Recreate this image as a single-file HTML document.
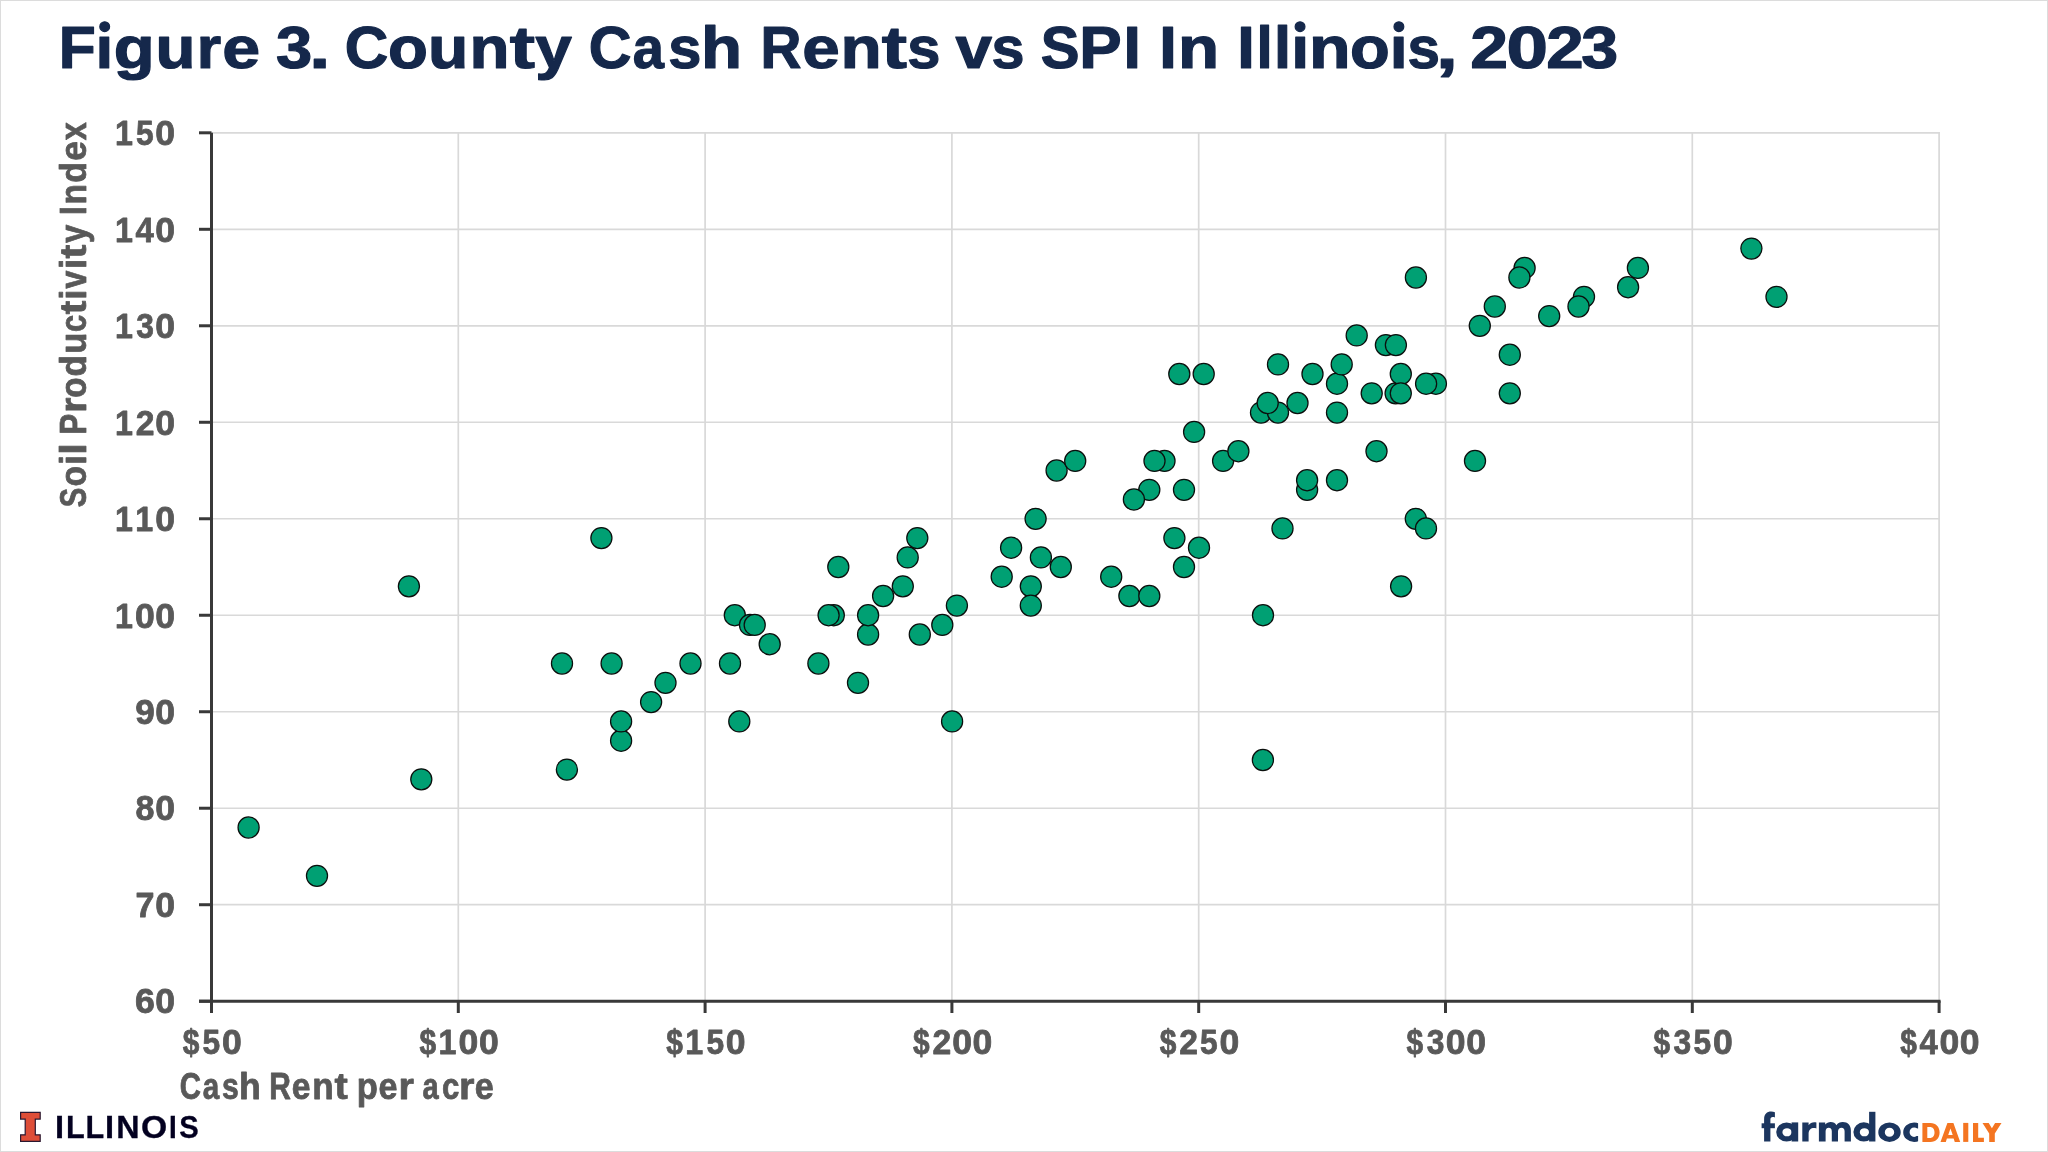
<!DOCTYPE html>
<html><head><meta charset="utf-8">
<style>
html,body{margin:0;padding:0;background:#fff;}
body{width:2048px;height:1152px;overflow:hidden;position:relative;}
svg{position:absolute;left:0;top:0;display:block;will-change:transform;}
text{font-family:"Liberation Sans",sans-serif;font-weight:bold;}
</style></head>
<body>
<svg width="2048" height="1152" viewBox="0 0 2048 1152">
<rect x="0.5" y="0.5" width="2047" height="1151" fill="#fff" stroke="#dcdcdc" stroke-width="1"/>
<g fill="#15284b" stroke="#15284b" stroke-width="1.2" stroke-linejoin="round"><text x="58.65" y="68.20" font-size="59.3" textLength="36.96" lengthAdjust="spacingAndGlyphs">F</text><text x="95.51" y="68.20" font-size="59.3" textLength="17.62" lengthAdjust="spacingAndGlyphs">ı</text><text x="113.65" y="68.20" font-size="59.3" textLength="40.93" lengthAdjust="spacingAndGlyphs">g</text><text x="155.44" y="68.20" font-size="59.3" textLength="39.97" lengthAdjust="spacingAndGlyphs">u</text><text x="196.67" y="68.20" font-size="59.3" textLength="24.38" lengthAdjust="spacingAndGlyphs">r</text><text x="222.24" y="68.20" font-size="59.3" textLength="37.89" lengthAdjust="spacingAndGlyphs">e</text><text x="275.90" y="68.20" font-size="59.3" textLength="36.25" lengthAdjust="spacingAndGlyphs">3</text><text x="309.25" y="68.20" font-size="59.3" textLength="21.07" lengthAdjust="spacingAndGlyphs">.</text><text x="344.73" y="68.20" font-size="59.3" textLength="43.52" lengthAdjust="spacingAndGlyphs">C</text><text x="387.95" y="68.20" font-size="59.3" textLength="39.90" lengthAdjust="spacingAndGlyphs">o</text><text x="428.10" y="68.20" font-size="59.3" textLength="40.35" lengthAdjust="spacingAndGlyphs">u</text><text x="469.59" y="68.20" font-size="59.3" textLength="39.97" lengthAdjust="spacingAndGlyphs">n</text><text x="509.87" y="68.20" font-size="59.3" textLength="25.25" lengthAdjust="spacingAndGlyphs">t</text><text x="535.28" y="68.20" font-size="59.3" textLength="36.67" lengthAdjust="spacingAndGlyphs">y</text><text x="588.67" y="68.20" font-size="59.3" textLength="42.75" lengthAdjust="spacingAndGlyphs">C</text><text x="632.86" y="68.20" font-size="59.3" textLength="31.19" lengthAdjust="spacingAndGlyphs">a</text><text x="668.31" y="68.20" font-size="59.3" textLength="33.14" lengthAdjust="spacingAndGlyphs">s</text><text x="700.91" y="68.20" font-size="59.3" textLength="41.06" lengthAdjust="spacingAndGlyphs">h</text><text x="760.61" y="68.20" font-size="59.3" textLength="40.96" lengthAdjust="spacingAndGlyphs">R</text><text x="802.36" y="68.20" font-size="59.3" textLength="37.54" lengthAdjust="spacingAndGlyphs">e</text><text x="840.45" y="68.20" font-size="59.3" textLength="41.24" lengthAdjust="spacingAndGlyphs">n</text><text x="881.87" y="68.20" font-size="59.3" textLength="25.25" lengthAdjust="spacingAndGlyphs">t</text><text x="907.31" y="68.20" font-size="59.3" textLength="33.14" lengthAdjust="spacingAndGlyphs">s</text><text x="955.64" y="68.20" font-size="59.3" textLength="36.55" lengthAdjust="spacingAndGlyphs">v</text><text x="991.41" y="68.20" font-size="59.3" textLength="33.02" lengthAdjust="spacingAndGlyphs">s</text><text x="1040.63" y="68.20" font-size="59.3" textLength="38.74" lengthAdjust="spacingAndGlyphs">S</text><text x="1079.24" y="68.20" font-size="59.3" textLength="42.43" lengthAdjust="spacingAndGlyphs">P</text><text x="1123.42" y="68.20" font-size="59.3" textLength="17.36" lengthAdjust="spacingAndGlyphs">I</text><text x="1159.27" y="68.20" font-size="59.3" textLength="17.55" lengthAdjust="spacingAndGlyphs">I</text><text x="1178.06" y="68.20" font-size="59.3" textLength="41.11" lengthAdjust="spacingAndGlyphs">n</text><text x="1237.17" y="68.20" font-size="59.3" textLength="17.55" lengthAdjust="spacingAndGlyphs">I</text><text x="1256.43" y="68.20" font-size="59.3" textLength="16.20" lengthAdjust="spacingAndGlyphs">l</text><text x="1273.93" y="68.20" font-size="59.3" textLength="17.01" lengthAdjust="spacingAndGlyphs">l</text><text x="1291.16" y="68.20" font-size="59.3" textLength="17.82" lengthAdjust="spacingAndGlyphs">ı</text><text x="1308.91" y="68.20" font-size="59.3" textLength="41.62" lengthAdjust="spacingAndGlyphs">n</text><text x="1349.96" y="68.20" font-size="59.3" textLength="39.79" lengthAdjust="spacingAndGlyphs">o</text><text x="1389.81" y="68.20" font-size="59.3" textLength="17.82" lengthAdjust="spacingAndGlyphs">ı</text><text x="1407.45" y="68.20" font-size="59.3" textLength="32.44" lengthAdjust="spacingAndGlyphs">s</text><text x="1436.14" y="68.20" font-size="59.3" textLength="21.94" lengthAdjust="spacingAndGlyphs">,</text><text x="1470.15" y="68.20" font-size="59.3" textLength="37.77" lengthAdjust="spacingAndGlyphs">2</text><text x="1506.55" y="68.20" font-size="59.3" textLength="41.51" lengthAdjust="spacingAndGlyphs">0</text><text x="1546.27" y="68.20" font-size="59.3" textLength="37.43" lengthAdjust="spacingAndGlyphs">2</text><text x="1581.38" y="68.20" font-size="59.3" textLength="36.92" lengthAdjust="spacingAndGlyphs">3</text><circle cx="104.7" cy="26.65" r="4.9"/><circle cx="1300.05" cy="26.65" r="4.9"/><circle cx="1398.9" cy="26.7" r="4.9"/></g>
<g stroke="#d9d9d9" stroke-width="1.7"><line x1="211.50" y1="904.72" x2="1939.85" y2="904.72"/><line x1="211.50" y1="808.23" x2="1939.85" y2="808.23"/><line x1="211.50" y1="711.74" x2="1939.85" y2="711.74"/><line x1="211.50" y1="615.25" x2="1939.85" y2="615.25"/><line x1="211.50" y1="518.76" x2="1939.85" y2="518.76"/><line x1="211.50" y1="422.27" x2="1939.85" y2="422.27"/><line x1="211.50" y1="325.78" x2="1939.85" y2="325.78"/><line x1="211.50" y1="229.29" x2="1939.85" y2="229.29"/><line x1="211.50" y1="132.80" x2="1939.85" y2="132.80"/><line x1="458.30" y1="132.05" x2="458.30" y2="1001.21"/><line x1="705.10" y1="132.05" x2="705.10" y2="1001.21"/><line x1="951.90" y1="132.05" x2="951.90" y2="1001.21"/><line x1="1198.70" y1="132.05" x2="1198.70" y2="1001.21"/><line x1="1445.50" y1="132.05" x2="1445.50" y2="1001.21"/><line x1="1692.30" y1="132.05" x2="1692.30" y2="1001.21"/><line x1="1939.10" y1="132.05" x2="1939.10" y2="1001.21"/></g>
<g stroke="#393939" stroke-width="3" stroke-linecap="butt">
<line x1="211.50" y1="132.80" x2="211.50" y2="1013"/>
<line x1="199" y1="1001.21" x2="1940.60" y2="1001.21"/>
<line x1="199" y1="1001.21" x2="211.50" y2="1001.21"/><line x1="199" y1="904.72" x2="211.50" y2="904.72"/><line x1="199" y1="808.23" x2="211.50" y2="808.23"/><line x1="199" y1="711.74" x2="211.50" y2="711.74"/><line x1="199" y1="615.25" x2="211.50" y2="615.25"/><line x1="199" y1="518.76" x2="211.50" y2="518.76"/><line x1="199" y1="422.27" x2="211.50" y2="422.27"/><line x1="199" y1="325.78" x2="211.50" y2="325.78"/><line x1="199" y1="229.29" x2="211.50" y2="229.29"/><line x1="199" y1="132.80" x2="211.50" y2="132.80"/><line x1="211.50" y1="1001.21" x2="211.50" y2="1013"/><line x1="458.30" y1="1001.21" x2="458.30" y2="1013"/><line x1="705.10" y1="1001.21" x2="705.10" y2="1013"/><line x1="951.90" y1="1001.21" x2="951.90" y2="1013"/><line x1="1198.70" y1="1001.21" x2="1198.70" y2="1013"/><line x1="1445.50" y1="1001.21" x2="1445.50" y2="1013"/><line x1="1692.30" y1="1001.21" x2="1692.30" y2="1013"/><line x1="1939.10" y1="1001.21" x2="1939.10" y2="1013"/></g>
<g fill="#595959" stroke="#595959" stroke-width="0.8" stroke-linejoin="round"><text x="134.94" y="1013.46" font-size="34.7" textLength="19.90" lengthAdjust="spacingAndGlyphs">6</text><text x="155.29" y="1013.46" font-size="34.7" textLength="19.76" lengthAdjust="spacingAndGlyphs">0</text><text x="135.43" y="916.97" font-size="34.7" textLength="18.96" lengthAdjust="spacingAndGlyphs">7</text><text x="155.29" y="916.97" font-size="34.7" textLength="19.76" lengthAdjust="spacingAndGlyphs">0</text><text x="135.42" y="820.48" font-size="34.7" textLength="18.93" lengthAdjust="spacingAndGlyphs">8</text><text x="155.29" y="820.48" font-size="34.7" textLength="19.76" lengthAdjust="spacingAndGlyphs">0</text><text x="135.18" y="723.99" font-size="34.7" textLength="19.52" lengthAdjust="spacingAndGlyphs">9</text><text x="155.29" y="723.99" font-size="34.7" textLength="19.76" lengthAdjust="spacingAndGlyphs">0</text><text x="115.12" y="627.50" font-size="34.7" textLength="17.93" lengthAdjust="spacingAndGlyphs">1</text><text x="135.04" y="627.50" font-size="34.7" textLength="19.76" lengthAdjust="spacingAndGlyphs">0</text><text x="155.29" y="627.50" font-size="34.7" textLength="19.76" lengthAdjust="spacingAndGlyphs">0</text><text x="115.12" y="531.01" font-size="34.7" textLength="17.93" lengthAdjust="spacingAndGlyphs">1</text><text x="135.37" y="531.01" font-size="34.7" textLength="17.93" lengthAdjust="spacingAndGlyphs">1</text><text x="155.29" y="531.01" font-size="34.7" textLength="19.76" lengthAdjust="spacingAndGlyphs">0</text><text x="115.12" y="434.52" font-size="34.7" textLength="17.93" lengthAdjust="spacingAndGlyphs">1</text><text x="135.63" y="434.52" font-size="34.7" textLength="18.71" lengthAdjust="spacingAndGlyphs">2</text><text x="155.29" y="434.52" font-size="34.7" textLength="19.76" lengthAdjust="spacingAndGlyphs">0</text><text x="115.12" y="338.03" font-size="34.7" textLength="17.93" lengthAdjust="spacingAndGlyphs">1</text><text x="136.27" y="338.03" font-size="34.7" textLength="17.68" lengthAdjust="spacingAndGlyphs">3</text><text x="155.29" y="338.03" font-size="34.7" textLength="19.76" lengthAdjust="spacingAndGlyphs">0</text><text x="115.12" y="241.54" font-size="34.7" textLength="17.93" lengthAdjust="spacingAndGlyphs">1</text><text x="135.60" y="241.54" font-size="34.7" textLength="18.27" lengthAdjust="spacingAndGlyphs">4</text><text x="155.29" y="241.54" font-size="34.7" textLength="19.76" lengthAdjust="spacingAndGlyphs">0</text><text x="115.12" y="145.05" font-size="34.7" textLength="17.93" lengthAdjust="spacingAndGlyphs">1</text><text x="136.02" y="145.05" font-size="34.7" textLength="17.66" lengthAdjust="spacingAndGlyphs">5</text><text x="155.29" y="145.05" font-size="34.7" textLength="19.76" lengthAdjust="spacingAndGlyphs">0</text><text x="182.81" y="1054.06" font-size="34.7" textLength="16.62" lengthAdjust="spacingAndGlyphs">$</text><text x="202.62" y="1054.06" font-size="34.7" textLength="17.66" lengthAdjust="spacingAndGlyphs">5</text><text x="222.04" y="1054.06" font-size="34.7" textLength="19.76" lengthAdjust="spacingAndGlyphs">0</text><text x="419.41" y="1054.06" font-size="34.7" textLength="16.62" lengthAdjust="spacingAndGlyphs">$</text><text x="438.57" y="1054.06" font-size="34.7" textLength="17.93" lengthAdjust="spacingAndGlyphs">1</text><text x="458.64" y="1054.06" font-size="34.7" textLength="19.76" lengthAdjust="spacingAndGlyphs">0</text><text x="479.04" y="1054.06" font-size="34.7" textLength="19.76" lengthAdjust="spacingAndGlyphs">0</text><text x="666.21" y="1054.06" font-size="34.7" textLength="16.62" lengthAdjust="spacingAndGlyphs">$</text><text x="685.37" y="1054.06" font-size="34.7" textLength="17.93" lengthAdjust="spacingAndGlyphs">1</text><text x="706.42" y="1054.06" font-size="34.7" textLength="17.66" lengthAdjust="spacingAndGlyphs">5</text><text x="725.84" y="1054.06" font-size="34.7" textLength="19.76" lengthAdjust="spacingAndGlyphs">0</text><text x="913.01" y="1054.06" font-size="34.7" textLength="16.62" lengthAdjust="spacingAndGlyphs">$</text><text x="932.43" y="1054.06" font-size="34.7" textLength="18.71" lengthAdjust="spacingAndGlyphs">2</text><text x="952.24" y="1054.06" font-size="34.7" textLength="19.76" lengthAdjust="spacingAndGlyphs">0</text><text x="972.64" y="1054.06" font-size="34.7" textLength="19.76" lengthAdjust="spacingAndGlyphs">0</text><text x="1159.81" y="1054.06" font-size="34.7" textLength="16.62" lengthAdjust="spacingAndGlyphs">$</text><text x="1179.23" y="1054.06" font-size="34.7" textLength="18.71" lengthAdjust="spacingAndGlyphs">2</text><text x="1200.02" y="1054.06" font-size="34.7" textLength="17.66" lengthAdjust="spacingAndGlyphs">5</text><text x="1219.44" y="1054.06" font-size="34.7" textLength="19.76" lengthAdjust="spacingAndGlyphs">0</text><text x="1406.61" y="1054.06" font-size="34.7" textLength="16.62" lengthAdjust="spacingAndGlyphs">$</text><text x="1426.67" y="1054.06" font-size="34.7" textLength="17.68" lengthAdjust="spacingAndGlyphs">3</text><text x="1445.84" y="1054.06" font-size="34.7" textLength="19.76" lengthAdjust="spacingAndGlyphs">0</text><text x="1466.24" y="1054.06" font-size="34.7" textLength="19.76" lengthAdjust="spacingAndGlyphs">0</text><text x="1653.41" y="1054.06" font-size="34.7" textLength="16.62" lengthAdjust="spacingAndGlyphs">$</text><text x="1673.47" y="1054.06" font-size="34.7" textLength="17.68" lengthAdjust="spacingAndGlyphs">3</text><text x="1693.62" y="1054.06" font-size="34.7" textLength="17.66" lengthAdjust="spacingAndGlyphs">5</text><text x="1713.04" y="1054.06" font-size="34.7" textLength="19.76" lengthAdjust="spacingAndGlyphs">0</text><text x="1900.21" y="1054.06" font-size="34.7" textLength="16.62" lengthAdjust="spacingAndGlyphs">$</text><text x="1919.60" y="1054.06" font-size="34.7" textLength="18.27" lengthAdjust="spacingAndGlyphs">4</text><text x="1939.44" y="1054.06" font-size="34.7" textLength="19.76" lengthAdjust="spacingAndGlyphs">0</text><text x="1959.84" y="1054.06" font-size="34.7" textLength="19.76" lengthAdjust="spacingAndGlyphs">0</text><text x="179.85" y="1099.45" font-size="36.5" textLength="21.21" lengthAdjust="spacingAndGlyphs">C</text><text x="202.68" y="1099.45" font-size="36.5" textLength="16.48" lengthAdjust="spacingAndGlyphs">a</text><text x="221.89" y="1099.45" font-size="36.5" textLength="16.80" lengthAdjust="spacingAndGlyphs">s</text><text x="238.96" y="1099.45" font-size="36.5" textLength="21.81" lengthAdjust="spacingAndGlyphs">h</text><text x="269.35" y="1099.45" font-size="36.5" textLength="21.62" lengthAdjust="spacingAndGlyphs">R</text><text x="291.83" y="1099.45" font-size="36.5" textLength="18.77" lengthAdjust="spacingAndGlyphs">e</text><text x="312.13" y="1099.45" font-size="36.5" textLength="21.50" lengthAdjust="spacingAndGlyphs">n</text><text x="334.56" y="1099.45" font-size="36.5" textLength="13.27" lengthAdjust="spacingAndGlyphs">t</text><text x="356.77" y="1099.45" font-size="36.5" textLength="21.09" lengthAdjust="spacingAndGlyphs">p</text><text x="378.52" y="1099.45" font-size="36.5" textLength="19.00" lengthAdjust="spacingAndGlyphs">e</text><text x="398.44" y="1099.45" font-size="36.5" textLength="15.41" lengthAdjust="spacingAndGlyphs">r</text><text x="422.40" y="1099.45" font-size="36.5" textLength="16.17" lengthAdjust="spacingAndGlyphs">a</text><text x="441.93" y="1099.45" font-size="36.5" textLength="17.33" lengthAdjust="spacingAndGlyphs">c</text><text x="459.14" y="1099.45" font-size="36.5" textLength="15.41" lengthAdjust="spacingAndGlyphs">r</text><text x="474.82" y="1099.45" font-size="36.5" textLength="19.00" lengthAdjust="spacingAndGlyphs">e</text><g transform="translate(85.55,0) rotate(-90)"><text x="-507.19" y="0.00" font-size="36.5" textLength="19.48" lengthAdjust="spacingAndGlyphs">S</text><text x="-486.56" y="0.00" font-size="36.5" textLength="20.53" lengthAdjust="spacingAndGlyphs">o</text><text x="-464.64" y="0.00" font-size="36.5" textLength="9.52" lengthAdjust="spacingAndGlyphs">i</text><text x="-454.70" y="0.00" font-size="36.5" textLength="11.34" lengthAdjust="spacingAndGlyphs">l</text><text x="-434.62" y="0.00" font-size="36.5" textLength="20.63" lengthAdjust="spacingAndGlyphs">P</text><text x="-412.72" y="0.00" font-size="36.5" textLength="15.16" lengthAdjust="spacingAndGlyphs">r</text><text x="-397.74" y="0.00" font-size="36.5" textLength="20.18" lengthAdjust="spacingAndGlyphs">o</text><text x="-376.38" y="0.00" font-size="36.5" textLength="21.33" lengthAdjust="spacingAndGlyphs">d</text><text x="-353.79" y="0.00" font-size="36.5" textLength="21.12" lengthAdjust="spacingAndGlyphs">u</text><text x="-332.06" y="0.00" font-size="36.5" textLength="17.22" lengthAdjust="spacingAndGlyphs">c</text><text x="-314.35" y="0.00" font-size="36.5" textLength="13.60" lengthAdjust="spacingAndGlyphs">t</text><text x="-299.69" y="0.00" font-size="36.5" textLength="10.12" lengthAdjust="spacingAndGlyphs">i</text><text x="-288.58" y="0.00" font-size="36.5" textLength="17.87" lengthAdjust="spacingAndGlyphs">v</text><text x="-269.05" y="0.00" font-size="36.5" textLength="10.33" lengthAdjust="spacingAndGlyphs">i</text><text x="-258.45" y="0.00" font-size="36.5" textLength="13.70" lengthAdjust="spacingAndGlyphs">t</text><text x="-243.01" y="0.00" font-size="36.5" textLength="18.23" lengthAdjust="spacingAndGlyphs">y</text><text x="-214.99" y="0.00" font-size="36.5" textLength="8.87" lengthAdjust="spacingAndGlyphs">I</text><text x="-204.55" y="0.00" font-size="36.5" textLength="20.37" lengthAdjust="spacingAndGlyphs">n</text><text x="-182.84" y="0.00" font-size="36.5" textLength="20.73" lengthAdjust="spacingAndGlyphs">d</text><text x="-160.83" y="0.00" font-size="36.5" textLength="19.69" lengthAdjust="spacingAndGlyphs">e</text><text x="-140.17" y="0.00" font-size="36.5" textLength="17.96" lengthAdjust="spacingAndGlyphs">x</text></g></g>
<g fill="#00a073" stroke="#0b0f0d" stroke-width="1.25"><circle cx="248.6" cy="827.5" r="10.55"/><circle cx="317.0" cy="875.8" r="10.55"/><circle cx="408.9" cy="586.3" r="10.55"/><circle cx="421.3" cy="779.3" r="10.55"/><circle cx="562.0" cy="663.5" r="10.55"/><circle cx="566.9" cy="769.6" r="10.55"/><circle cx="601.4" cy="538.1" r="10.55"/><circle cx="611.6" cy="663.5" r="10.55"/><circle cx="621.1" cy="740.7" r="10.55"/><circle cx="621.1" cy="721.4" r="10.55"/><circle cx="651.1" cy="702.1" r="10.55"/><circle cx="665.5" cy="682.8" r="10.55"/><circle cx="690.5" cy="663.5" r="10.55"/><circle cx="730.0" cy="663.5" r="10.55"/><circle cx="734.8" cy="615.2" r="10.55"/><circle cx="739.3" cy="721.4" r="10.55"/><circle cx="750.0" cy="624.9" r="10.55"/><circle cx="754.7" cy="624.9" r="10.55"/><circle cx="769.7" cy="644.2" r="10.55"/><circle cx="818.4" cy="663.5" r="10.55"/><circle cx="833.8" cy="615.2" r="10.55"/><circle cx="828.6" cy="615.2" r="10.55"/><circle cx="838.3" cy="567.0" r="10.55"/><circle cx="858.0" cy="682.8" r="10.55"/><circle cx="868.1" cy="634.5" r="10.55"/><circle cx="868.1" cy="615.2" r="10.55"/><circle cx="883.1" cy="596.0" r="10.55"/><circle cx="902.8" cy="586.3" r="10.55"/><circle cx="907.7" cy="557.4" r="10.55"/><circle cx="917.3" cy="538.1" r="10.55"/><circle cx="919.8" cy="634.5" r="10.55"/><circle cx="942.3" cy="624.9" r="10.55"/><circle cx="952.1" cy="721.4" r="10.55"/><circle cx="956.9" cy="605.6" r="10.55"/><circle cx="1001.7" cy="576.7" r="10.55"/><circle cx="1011.1" cy="547.7" r="10.55"/><circle cx="1030.8" cy="586.3" r="10.55"/><circle cx="1030.8" cy="605.6" r="10.55"/><circle cx="1035.6" cy="518.8" r="10.55"/><circle cx="1040.9" cy="557.4" r="10.55"/><circle cx="1056.6" cy="470.5" r="10.55"/><circle cx="1060.8" cy="567.0" r="10.55"/><circle cx="1075.2" cy="460.9" r="10.55"/><circle cx="1111.2" cy="576.7" r="10.55"/><circle cx="1129.4" cy="596.0" r="10.55"/><circle cx="1149.3" cy="489.8" r="10.55"/><circle cx="1133.9" cy="499.5" r="10.55"/><circle cx="1149.3" cy="596.0" r="10.55"/><circle cx="1164.5" cy="460.9" r="10.55"/><circle cx="1154.5" cy="460.9" r="10.55"/><circle cx="1174.4" cy="538.1" r="10.55"/><circle cx="1179.3" cy="374.0" r="10.55"/><circle cx="1184.0" cy="489.8" r="10.55"/><circle cx="1184.0" cy="567.0" r="10.55"/><circle cx="1194.1" cy="431.9" r="10.55"/><circle cx="1199.0" cy="547.7" r="10.55"/><circle cx="1203.7" cy="374.0" r="10.55"/><circle cx="1223.1" cy="460.9" r="10.55"/><circle cx="1238.4" cy="451.2" r="10.55"/><circle cx="1261.0" cy="412.6" r="10.55"/><circle cx="1263.0" cy="615.2" r="10.55"/><circle cx="1262.9" cy="760.0" r="10.55"/><circle cx="1278.0" cy="412.6" r="10.55"/><circle cx="1267.7" cy="403.0" r="10.55"/><circle cx="1278.0" cy="364.4" r="10.55"/><circle cx="1282.5" cy="528.4" r="10.55"/><circle cx="1297.5" cy="403.0" r="10.55"/><circle cx="1307.1" cy="489.8" r="10.55"/><circle cx="1307.1" cy="480.2" r="10.55"/><circle cx="1312.5" cy="374.0" r="10.55"/><circle cx="1337.0" cy="383.7" r="10.55"/><circle cx="1337.0" cy="412.6" r="10.55"/><circle cx="1337.0" cy="480.2" r="10.55"/><circle cx="1341.7" cy="364.4" r="10.55"/><circle cx="1356.7" cy="335.4" r="10.55"/><circle cx="1371.7" cy="393.3" r="10.55"/><circle cx="1376.5" cy="451.2" r="10.55"/><circle cx="1385.9" cy="345.1" r="10.55"/><circle cx="1395.9" cy="345.1" r="10.55"/><circle cx="1395.6" cy="393.3" r="10.55"/><circle cx="1400.8" cy="374.0" r="10.55"/><circle cx="1400.8" cy="393.3" r="10.55"/><circle cx="1401.1" cy="586.3" r="10.55"/><circle cx="1415.9" cy="277.5" r="10.55"/><circle cx="1415.8" cy="518.8" r="10.55"/><circle cx="1435.9" cy="383.7" r="10.55"/><circle cx="1426.1" cy="383.7" r="10.55"/><circle cx="1426.0" cy="528.4" r="10.55"/><circle cx="1475.0" cy="460.9" r="10.55"/><circle cx="1479.8" cy="325.8" r="10.55"/><circle cx="1494.8" cy="306.5" r="10.55"/><circle cx="1509.8" cy="354.7" r="10.55"/><circle cx="1509.8" cy="393.3" r="10.55"/><circle cx="1524.6" cy="267.9" r="10.55"/><circle cx="1519.4" cy="277.5" r="10.55"/><circle cx="1549.2" cy="316.1" r="10.55"/><circle cx="1584.0" cy="296.8" r="10.55"/><circle cx="1578.5" cy="306.5" r="10.55"/><circle cx="1628.1" cy="287.2" r="10.55"/><circle cx="1637.9" cy="267.9" r="10.55"/><circle cx="1751.4" cy="248.6" r="10.55"/><circle cx="1776.5" cy="296.8" r="10.55"/></g>
<path d="M20.6,1112.4 H40.2 V1119.1 H35.3 V1134.8 H40.2 V1141.3 H20.6 V1134.8 H25.2 V1119.1 H20.6 Z" fill="#de4e38" stroke="#2a1830" stroke-width="1.2"/>
<g fill="#030020" stroke="#030020" stroke-width="0.3"><text x="54.97" y="1137.85" font-size="31.7" textLength="9.07" lengthAdjust="spacingAndGlyphs">I</text><text x="66.10" y="1137.85" font-size="31.7" textLength="18.69" lengthAdjust="spacingAndGlyphs">L</text><text x="85.40" y="1137.85" font-size="31.7" textLength="18.69" lengthAdjust="spacingAndGlyphs">L</text><text x="104.97" y="1137.85" font-size="31.7" textLength="9.07" lengthAdjust="spacingAndGlyphs">I</text><text x="116.19" y="1137.85" font-size="31.7" textLength="23.34" lengthAdjust="spacingAndGlyphs">N</text><text x="141.07" y="1137.85" font-size="31.7" textLength="26.20" lengthAdjust="spacingAndGlyphs">O</text><text x="169.09" y="1137.85" font-size="31.7" textLength="7.72" lengthAdjust="spacingAndGlyphs">I</text><text x="179.21" y="1137.85" font-size="31.7" textLength="19.48" lengthAdjust="spacingAndGlyphs">S</text></g>
<defs><clipPath id="cclip"><path d="M1900,1110 H1918.1 V1128.5 H1913 V1136 H1918.1 V1145 H1900 Z"/></clipPath></defs>
<g fill="#1c365f" fill-rule="evenodd"><path d="M1764.1,1141.5 V1119.2 C1764.1,1114.2 1766.9,1111.6 1771.2,1111.6 C1772.6,1111.6 1773.8,1111.8 1774.9,1112.2 V1117.4 C1774.2,1117.2 1773.4,1117.1 1772.7,1117.1 C1771.2,1117.1 1770.4,1117.9 1770.4,1119.7 V1141.5 Z"/><path d="M1761.6,1123.3 H1774.9 V1128.2 H1761.6 Z"/><path d="M1802.3,1141.5 V1122.4 H1808.6 V1125.2 C1809.9,1123.3 1811.9,1122.2 1814.3,1122.2 C1815.1,1122.2 1815.8,1122.3 1816.4,1122.5 V1128.4 C1815.6,1128.1 1814.8,1128 1814,1128 C1810.8,1128 1808.6,1130 1808.6,1133.8 V1141.5 Z"/><path d="M1818.9,1141.5 V1122.4 H1825.2 V1124.6 C1826.5,1123 1828.4,1122.1 1830.7,1122.1 C1833.3,1122.1 1835.3,1123.3 1836.4,1125.3 C1837.8,1123.3 1840,1122.1 1842.8,1122.1 C1847.8,1122.1 1850.9,1125.3 1850.9,1130.6 V1141.5 H1844.6 V1131.4 C1844.6,1129 1843.6,1127.8 1841.5,1127.8 C1839.4,1127.8 1838,1129.1 1838,1131.6 V1141.5 H1831.8 V1131.4 C1831.8,1129 1830.8,1127.8 1828.7,1127.8 C1826.6,1127.8 1825.6,1129.1 1825.6,1131.6 V1141.5 Z"/><path d="M1776.20,1131.95 A10.4,9.55 0 1,0 1797.00,1131.95 A10.4,9.55 0 1,0 1776.20,1131.95 Z M1782.40,1132.25 A4.6,4.1 0 1,1 1791.60,1132.25 A4.6,4.1 0 1,1 1782.40,1132.25 Z"/><path d="M1791.6,1122.4 H1798.2 V1141.5 H1791.6 Z"/><path d="M1853.40,1131.95 A10.4,9.55 0 1,0 1874.20,1131.95 A10.4,9.55 0 1,0 1853.40,1131.95 Z M1859.80,1132.25 A4.6,4.1 0 1,1 1869.00,1132.25 A4.6,4.1 0 1,1 1859.80,1132.25 Z"/><path d="M1869.1,1111.8 H1875.4 V1141.5 H1869.1 Z"/><path d="M1878.30,1132.20 A11.2,9.75 0 1,0 1900.70,1132.20 A11.2,9.75 0 1,0 1878.30,1132.20 Z M1884.80,1132.20 A4.7,4.5 0 1,1 1894.20,1132.20 A4.7,4.5 0 1,1 1884.80,1132.20 Z"/></g>
<path fill="#1c365f" fill-rule="evenodd" clip-path="url(#cclip)" d="M1903.20,1132.20 A10.9,9.75 0 1,0 1925.00,1132.20 A10.9,9.75 0 1,0 1903.20,1132.20 Z M1909.60,1132.20 A4.5,4.75 0 1,1 1918.60,1132.20 A4.5,4.75 0 1,1 1909.60,1132.20 Z"/>
<g fill="#f47521" fill-rule="evenodd"><path d="M1922.4,1122.9 H1930.4 C1936,1122.9 1939.6,1126.8 1939.6,1132.4 C1939.6,1138 1936,1141.9 1930.4,1141.9 H1922.4 Z M1927.3,1126.9 V1137.9 H1929.9 C1932.8,1137.9 1934.5,1135.8 1934.5,1132.4 C1934.5,1129 1932.8,1126.9 1929.9,1126.9 Z"/><path d="M1940.5,1141.9 L1947.4,1122.9 H1953.4 L1960.2,1141.9 H1954.8 L1953.6,1138.4 H1946.9 L1945.8,1141.9 Z M1948.2,1135.1 H1952.7 L1950.45,1128.4 Z"/><path d="M1963.2,1122.9 H1968.3 V1141.9 H1963.2 Z"/><path d="M1973,1122.9 H1978.2 V1137.7 H1983.9 V1141.9 H1973 Z"/><path d="M1982.5,1122.9 H1988.7 L1991.9,1128.3 L1995.1,1122.9 H2001.5 L1994.8,1133.4 V1141.9 H1989.2 V1133.4 Z"/></g>
</svg>
</body></html>
